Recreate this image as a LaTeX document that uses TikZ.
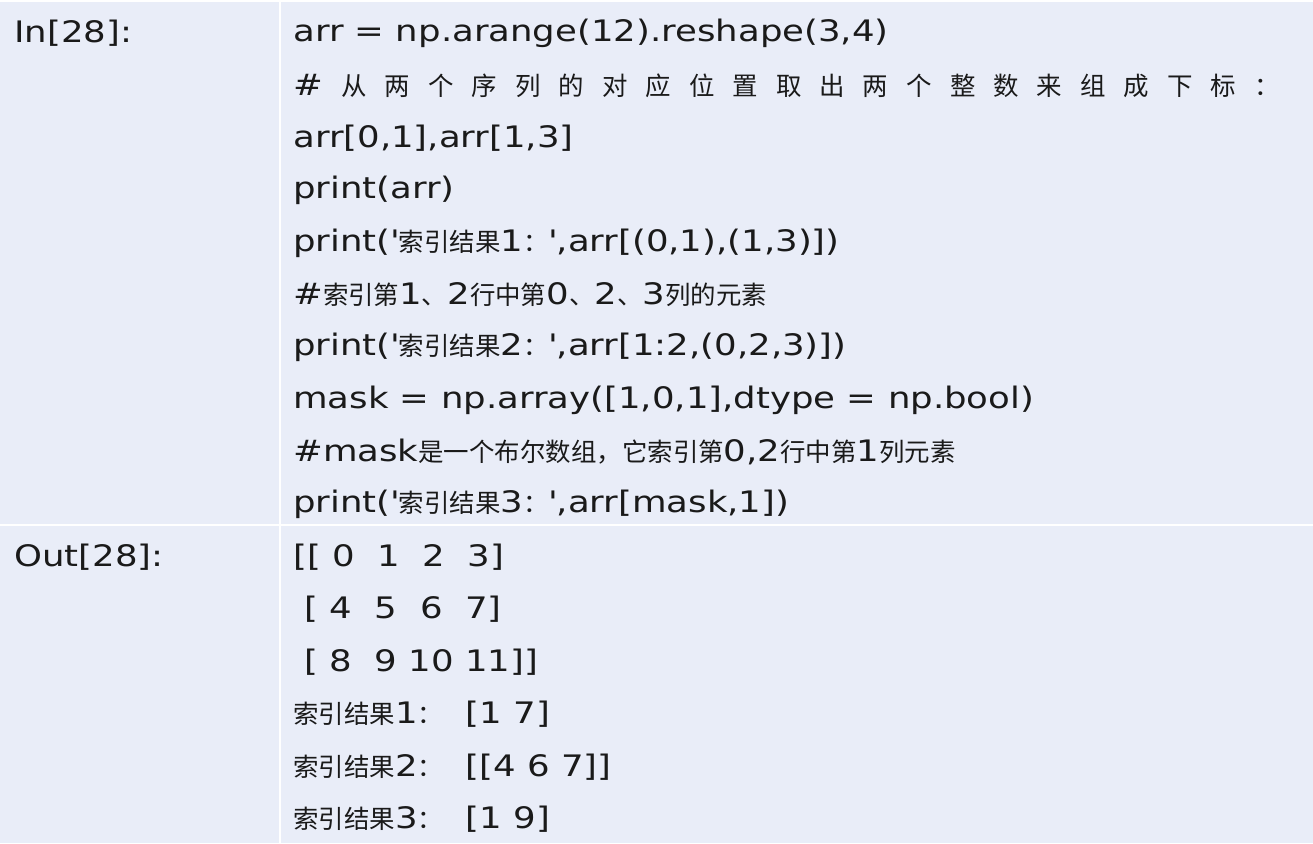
\documentclass[tikz,border=0pt]{standalone}
\usepackage{fontspec}
\setmainfont{DejaVu Sans}[FakeStretch=1.2]
\newfontfamily\cjk{Noto Sans CJK SC}[Scale=0.86]
\newcommand{\zh}[1]{{\cjk #1}}
\newcommand{\q}{\textquotesingle}
\definecolor{bg}{HTML}{E9EDF8}
\definecolor{tx}{HTML}{1A1A1A}
\begin{document}
\begin{tikzpicture}[x=0.75pt,y=-0.75pt,
  ln/.style={anchor=west,inner sep=0pt,font=\fontsize{22.2pt}{24pt}\selectfont,text=tx},
  grid/.style={white,line width=2.2pt}]
\useasboundingbox (0,0) rectangle (1313,843);
\fill[bg] (0,0) rectangle (1313,843);
\draw[grid] (280,0) -- (280,843);
\draw[grid] (0,525) -- (1313,525);
\draw[grid] (0,1) -- (1313,1);
\node[ln] (in) at (14,33) {In[28]:};
\node[ln] (out) at (14,557) {Out[28]:};
\node[ln] (c1) at (293,33) {arr = np.arange(12).reshape(3,4)};
\node[ln] (c2) at (293,86) {\hbox to 740pt{\#\hfill\zh{从}\hfill\zh{两}\hfill\zh{个}\hfill\zh{序}\hfill\zh{列}\hfill\zh{的}\hfill\zh{对}\hfill\zh{应}\hfill\zh{位}\hfill\zh{置}\hfill\zh{取}\hfill\zh{出}\hfill\zh{两}\hfill\zh{个}\hfill\zh{整}\hfill\zh{数}\hfill\zh{来}\hfill\zh{组}\hfill\zh{成}\hfill\zh{下}\hfill\zh{标}\hfill\zh{：}}};
\node[ln] (c3) at (293,138) {arr[0,1],arr[1,3]};
\node[ln] (c4) at (293,190) {print(arr)};
\node[ln] (c5) at (293,243) {print(\q\zh{索引结果}1\zh{：}\q,arr[(0,1),(1,3)])};
\node[ln] (c6) at (293,295) {\#\zh{索引第}1\zh{、}2\zh{行中第}0\zh{、}2\zh{、}3\zh{列的元素}};
\node[ln] (c7) at (293,347) {print(\q\zh{索引结果}2\zh{：}\q,arr[1:2,(0,2,3)])};
\node[ln] (c8) at (293,400) {mask = np.array([1,0,1],dtype = np.bool)};
\node[ln] (c9) at (293,452) {\#mask\zh{是一个布尔数组，它索引第}0,2\zh{行中第}1\zh{列元素}};
\node[ln] (c10) at (293,504) {print(\q\zh{索引结果}3\zh{：}\q,arr[mask,1])};
\node[ln] (o1) at (293,557) {[[ 0\ \ 1\ \ 2\ \ 3]};
\node[ln] (o2) at (293,609) {\ [ 4\ \ 5\ \ 6\ \ 7]};
\node[ln] (o3) at (293,662) {\ [ 8\ \ 9 10 11]]};
\node[ln] (o4) at (293,714) {\zh{索引结果}1\zh{：}\ \ [1 7]};
\node[ln] (o5) at (293,767) {\zh{索引结果}2\zh{：}\ \ [[4 6 7]]};
\node[ln] (o6) at (293,819) {\zh{索引结果}3\zh{：}\ \ [1 9]};
\end{tikzpicture}
\end{document}
